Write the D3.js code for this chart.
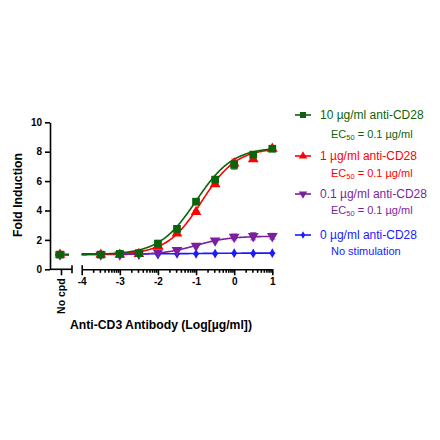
<!DOCTYPE html>
<html><head><meta charset="utf-8">
<script src="https://cdn.jsdelivr.net/npm/d3@7"></script>
<style>body{margin:0;background:#fff}svg{display:block;font-family:"Liberation Sans",Arial,sans-serif}</style>
</head><body><svg id="c" width="440" height="440"></svg>
<script>
// ---- data ----
const logDoses = [-3.5, -3, -2.5, -2, -1.5, -1, -0.5, 0, 0.5, 1];
const seriesNames = ["10 µg/ml anti-CD28", "1 µg/ml anti-CD28", "0.1 µg/ml anti-CD28", "0 µg/ml anti-CD28"];
const seriesNotes = ["EC50 = 0.1 µg/ml", "EC50 = 0.1 µg/ml", "EC50 = 0.1 µg/ml", "No stimulation"];
const colors = ["#0b640b", "#ff0000", "#7a1fa0", "#1a1aff"];
const symbols = ["square", "triangle", "triangleDown", "diamond"];
const noCpd = [1.0, 1.0, 1.0, 1.0];
const green = [1.0, 1.05, 1.1, 1.75, 2.75, 4.6, 6.1, 7.1, 7.8, 8.2];
const red = [1.0, 1.0, 1.05, 1.6, 2.45, 3.9, 5.8, 7.2, 7.5, 8.2];
const purple = [1.0, 1.0, 1.05, 1.15, 1.3, 1.6, 1.95, 2.2, 2.25, 2.25];
const blue = [1.0, 1.0, 1.0, 1.0, 1.05, 1.05, 1.07, 1.1, 1.08, 1.1];
const greenErr = [0.05, 0.05, 0.05, 0.1, 0.1, 0.1, 0.15, 0.3, 0.1, 0.1];
const redErr = [0.05, 0.05, 0.05, 0.1, 0.1, 0.1, 0.1, 0.3, 0.15, 0.15];
const purpleErr = [0.03, 0.03, 0.03, 0.05, 0.05, 0.05, 0.08, 0.2, 0.25, 0.2];
const blueErr = [0.02, 0.02, 0.02, 0.02, 0.02, 0.02, 0.02, 0.03, 0.02, 0.02];
// 4PL fit parameters
const fitBottom = [1.0, 1.0, 1.0, 1.05];
const fitTop = [8.3, 8.25, 2.25, 1.1];
const fitLogEC50 = [-1.0, -0.85, -1.0, -1.0];
const fitHill = [0.9, 0.95, 1.0, 1.0];
const yTicks = [0, 2, 4, 6, 8, 10];
const xTicks = [-4, -3, -2, -1, 0, 1];
const noCpdLabel = "No cpd";

const seriesVals = [green, red, purple, blue];
const seriesErr = [greenErr, redErr, purpleErr, blueErr];

// ---- scales ----
const svg = d3.select("#c");
const x = d3.scaleLinear().domain([-4, 1]).range([81.7, 272.3]);
const y = d3.scaleLinear().domain([0, 10]).range([269.3, 122.3]);
const xN = d3.scalePoint().domain([noCpdLabel]).range([50, 72]).padding(0.5);
const y0 = y(0);
const symType = {square: d3.symbolSquare, triangle: d3.symbolTriangle, triangleDown: d3.symbolTriangle, diamond: d3.symbolDiamond};
const symSize = {square: 60, triangle: 50, triangleDown: 50, diamond: 28};
function sym(g, k, size) {
  const p = g.append("path").attr("d", d3.symbol().type(symType[symbols[k]]).size(size)()).attr("fill", colors[k]);
  if (symbols[k] === "triangleDown") p.attr("transform", "rotate(180)");
  return p;
}

// ---- axes ----
const axStyle = g => {
  g.selectAll("path,line").attr("stroke", "#000").attr("stroke-width", 1.6);
  g.selectAll("text").attr("font-size", 10).attr("font-weight", "bold").attr("fill", "#000").attr("font-family", '"Liberation Sans",Arial,sans-serif');
};
svg.append("g").attr("transform", "translate(50,0)")
  .call(d3.axisLeft(y).tickValues(yTicks).tickSize(5).tickSizeOuter(0).tickPadding(3))
  .call(axStyle);
// no-cpd segment
const gN = svg.append("g").attr("transform", `translate(0,${y0})`)
  .call(d3.axisBottom(xN).tickSize(6).tickSizeOuter(0).tickFormat(""))
  .call(axStyle);
gN.select(".domain").attr("d", `M50,0H72`);
svg.append("line").attr("x1", 72).attr("x2", 72).attr("y1", y0 - 4).attr("y2", y0 + 4).attr("stroke", "#000").attr("stroke-width", 1.6);
svg.append("text").attr("transform", `translate(${xN(noCpdLabel) + 4},${y0 + 9}) rotate(-90)`)
  .attr("text-anchor", "end").attr("font-size", 10.5).attr("font-weight", "bold").text(noCpdLabel);
// main log axis
svg.append("g").attr("transform", `translate(0,${y0})`)
  .call(d3.axisBottom(x).tickValues(xTicks).tickSize(6).tickSizeOuter(0).tickPadding(3).tickFormat(d3.format("d")))
  .call(axStyle)
  .call(g => g.selectAll("text").text(d => d < 0 ? "-" + Math.abs(d) : d));
const minor = [];
for (let n = -4; n < 1; n++) for (let k = 2; k <= 9; k++) minor.push(n + Math.log10(k));
svg.append("g").attr("transform", `translate(0,${y0})`)
  .call(d3.axisBottom(x).tickValues(minor).tickSize(3.5).tickSizeOuter(0).tickFormat(""))
  .call(axStyle).call(g => g.select(".domain").remove());
svg.append("g").attr("transform", `translate(0,${y0})`)
  .call(d3.axisTop(x).tickValues([-4]).tickSize(4).tickSizeOuter(0).tickFormat(""))
  .call(axStyle).call(g => g.select(".domain").remove());

// axis titles
svg.append("text").attr("x", 161).attr("y", 329).attr("text-anchor", "middle")
  .attr("font-size", 12.2).attr("font-weight", "bold").text("Anti-CD3 Antibody (Log[µg/ml])");
svg.append("text").attr("transform", "translate(22,195) rotate(-90)").attr("text-anchor", "middle")
  .attr("font-size", 12.2).attr("font-weight", "bold").text("Fold Induction");

// ---- curves ----
const fineX = d3.range(-4, 1.0001, 0.02);
const line = d3.line().x(d => x(d[0])).y(d => y(d[1]));
const order = [3, 2, 1, 0];
order.forEach(k => {
  const pts = fineX.map(t => [t, fitBottom[k] + (fitTop[k] - fitBottom[k]) / (1 + Math.pow(10, fitHill[k] * (fitLogEC50[k] - t)))]);
  svg.append("path").attr("d", line(pts)).attr("fill", "none").attr("stroke", colors[k]).attr("stroke-width", 1.6);
  svg.append("line").attr("x1", 55).attr("x2", 69).attr("y1", y(noCpd[k])).attr("y2", y(noCpd[k]))
    .attr("stroke", colors[k]).attr("stroke-width", 1.6);
});
// ---- error bars + markers ----
order.forEach(k => {
  const g = svg.append("g");
  seriesVals[k].forEach((v, i) => {
    const cx = x(logDoses[i]), e = seriesErr[k][i];
    g.append("line").attr("x1", cx).attr("x2", cx).attr("y1", y(v - e)).attr("y2", y(v + e)).attr("stroke", colors[k]).attr("stroke-width", 1).attr("opacity", 0.7);
    [v - e, v + e].forEach(yy => g.append("line").attr("x1", cx - 3).attr("x2", cx + 3).attr("y1", y(yy)).attr("y2", y(yy)).attr("stroke", colors[k]).attr("stroke-width", 1).attr("opacity", 0.7));
    sym(g.append("g").attr("transform", `translate(${cx},${y(v)})`), k, symSize[symbols[k]]);
  });
  sym(g.append("g").attr("transform", `translate(${xN(noCpdLabel) - 1},${y(noCpd[k])})`), k, symSize[symbols[k]]);
});

// ---- legend ----
const legBase = [119, 160, 198, 239];
const noteBase = [138, 177, 214, 255];
seriesNames.forEach((name, k) => {
  const g = svg.append("g").attr("transform", `translate(0,${legBase[k] - 4})`);
  g.append("line").attr("x1", 295).attr("x2", 311).attr("stroke", colors[k]).attr("stroke-width", 1.6);
  sym(g.append("g").attr("transform", "translate(303,0)"), k, symSize[symbols[k]] * 0.6);
  svg.append("text").attr("x", 320).attr("y", legBase[k]).attr("font-size", 12).attr("fill", colors[k]).text(name);
  const t = svg.append("text").attr("x", 331).attr("y", noteBase[k]).attr("font-size", 11).attr("fill", colors[k]);
  const note = seriesNotes[k];
  if (note.startsWith("EC50")) {
    t.append("tspan").text("EC");
    t.append("tspan").attr("font-size", 7.5).attr("dy", 2).text("50");
    t.append("tspan").attr("dy", -2).text(note.slice(4));
  } else {
    t.text(note);
  }
});
</script></body></html>
